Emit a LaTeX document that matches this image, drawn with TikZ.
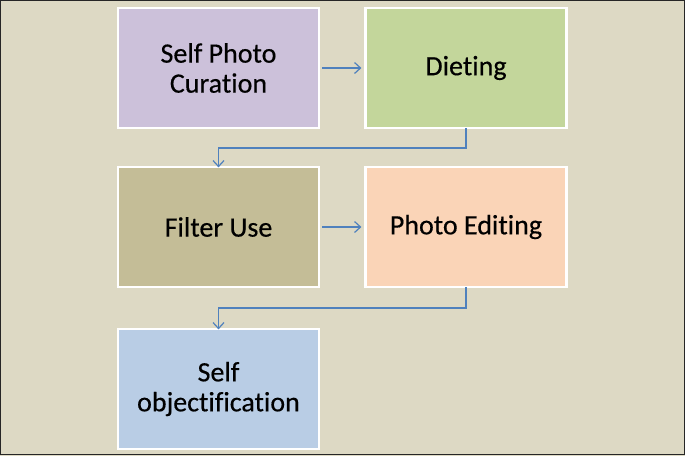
\documentclass[tikz,border=0pt]{standalone}
\usepackage{fontspec}
\setmainfont{Carlito}[Ligatures=NoCommon, FakeBold=0.4]
\usetikzlibrary{arrows.meta}
\definecolor{bg}{HTML}{DDD9C4}
\definecolor{cA}{HTML}{CCC1DA}
\definecolor{cB}{HTML}{C3D69B}
\definecolor{cC}{HTML}{C4BD97}
\definecolor{cD}{HTML}{FAD4B7}
\definecolor{cE}{HTML}{B9CDE5}
\definecolor{arr}{HTML}{4F81BD}
\tikzset{
  box/.style={draw=white, line width=2.2pt, minimum width=201pt, minimum height=120pt,
    inner sep=0pt, align=center, font=\fontsize{28}{30}\selectfont, text=black},
  conn/.style={draw=arr, line width=1.2pt, -{Straight Barb[length=6pt,width=11pt,line width=1.2pt]}},
}
\begin{document}
\begin{tikzpicture}[x=1pt,y=-1pt]
\useasboundingbox (0,0) rectangle (685,456);
\fill[bg] (0,0) rectangle (685,456);
\draw[black!85, line width=1pt] (0.5,0.5) rectangle (684.5,454.5);
\node[box, fill=cA] (a) at (218.5,68) {Self Photo\\Curation};
\node[box, fill=cB] (b) at (466,68) {Dieting};
\node[box, fill=cC] (c) at (218.5,227) {Filter Use};
\node[box, fill=cD] (d) at (466,227) {Photo Editing};
\node[box, fill=cE] (e) at (218.5,389) {Self\\objectification};
\draw[conn] ([xshift=2pt]a.east) -- ([xshift=-3pt]b.west);
\draw[conn] ([xshift=2pt]c.east) -- ([xshift=-3pt]d.west);
\draw[conn] ([yshift=1pt]b.south) |- (466,148) -| ([yshift=-1.5pt]c.north);
\draw[conn] ([yshift=1pt]d.south) |- (466,308) -| ([yshift=-1.5pt]e.north);
\end{tikzpicture}
\end{document}
